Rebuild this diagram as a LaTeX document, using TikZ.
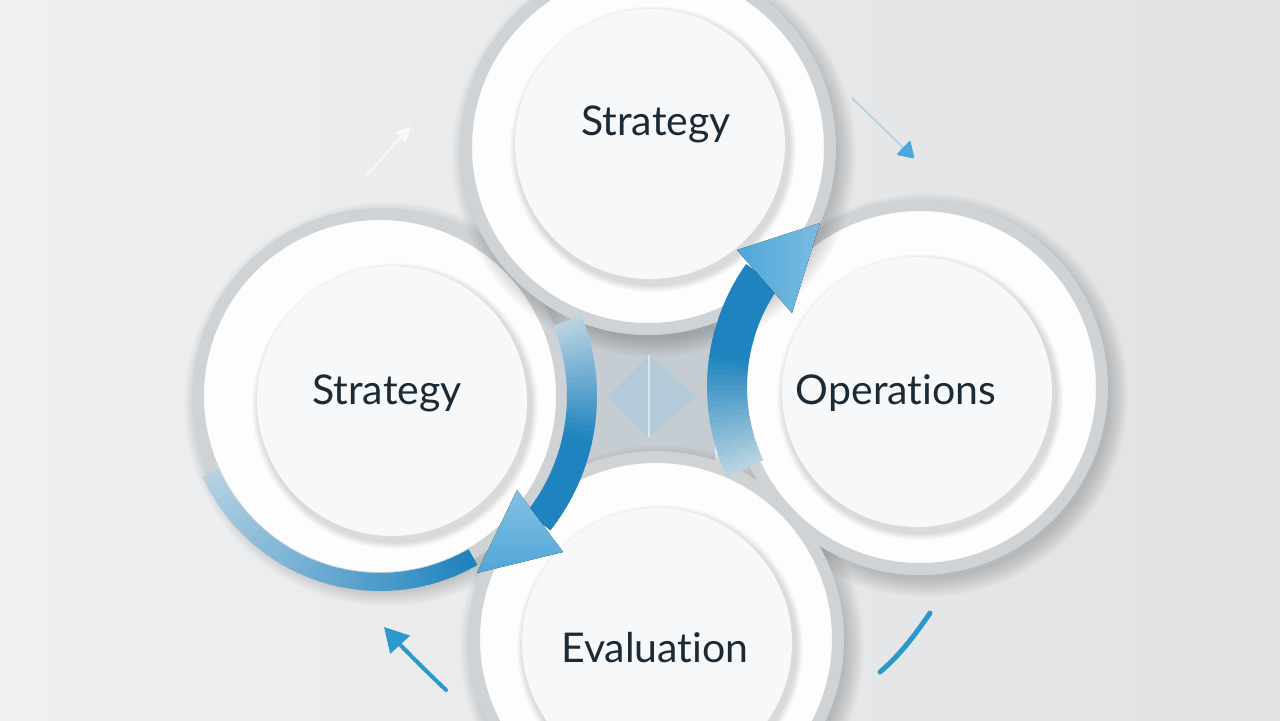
\documentclass[tikz,border=0pt]{standalone}
\usepackage{fontspec}
\setmainfont{Lato}[Ligatures={NoCommon}]
\usetikzlibrary{arrows.meta,positioning}

\definecolor{bgleft}{HTML}{EFF0F1}
\definecolor{bgright}{HTML}{E0E2E4}
\definecolor{rimgray}{HTML}{CFD3D6}
\definecolor{discwhite}{HTML}{FDFDFD}
\definecolor{innerwhite}{HTML}{F7F8F9}
\definecolor{textnavy}{HTML}{1C2A35}
\definecolor{bandblue}{HTML}{1E83BF}
\definecolor{tipblue}{HTML}{4FA6D8}
\definecolor{fadeblue}{HTML}{B8D3E2}
\definecolor{gapgray}{HTML}{C6CDD2}
\definecolor{diamondblue}{HTML}{A9C8DC}
\definecolor{smallblue}{HTML}{2B98CE}

\begin{document}
\begin{tikzpicture}[x=0.5pt,y=-0.5pt,
  outerdisc/.style={circle,inner sep=0pt,minimum size=182pt,fill=discwhite,draw=rimgray,line width=6pt},
  innerdisc/.style={circle,inner sep=0pt,minimum size=135pt,fill=innerwhite},
  softshade/.style={black,opacity=#1},
  steplabel/.style={text=textnavy,font=\fontsize{20.5}{24}\selectfont},
  smallarrow/.style={smallblue,line width=2pt,line cap=round}]
\useasboundingbox (0,0) rectangle (1280,720);

%Background
\fill[left color=bgleft,right color=bgright] (0,0) rectangle (1280,720);
%Gap between the discs
\fill[gapgray] (585,315) rectangle (715,478);
%Shape: Diamond
\fill[diamondblue,opacity=.6] (607,397) -- (649,355) -- (696,397) -- (649,437) -- cycle;
\draw[white,opacity=.5,line width=1pt] (649,355) -- (649,437);

%Shadows of the outer discs
\foreach \cx/\cy in {380/396,920/387,656/639} {
  \foreach \k in {0,...,9}
    \fill[softshade=.02] (\cx+6,\cy+8) circle (188+14-\k*2);
}

%Left disc
\node[outerdisc] (leftOut) at (380,396) {};
\foreach \i in {0,...,37} {
  \pgfmathtruncatemacro\p{100-\i*2.6}
  \draw[bandblue!\p!fadeblue,line width=9pt] ([shift={(60+\i*2.5:186)}]leftOut.center) arc[start angle=60+\i*2.5,end angle=63+\i*2.5,radius=186];
}
\foreach \k in {0,...,6}
  \fill[softshade=.018] ([shift={(3,5)}]392,401) circle (136+7-\k);
\node[innerdisc] (leftIn) at (392,401) {};

%Right disc
\node[outerdisc] (rightOut) at (920,387) {};
\foreach \k in {0,...,6}
  \fill[softshade=.018] ([shift={(3,5)}]917,392) circle (136+7-\k);
\node[innerdisc] (rightIn) at (917,392) {};

%Bottom disc
\node[outerdisc] (bottomOut) at (656,639) {};
\foreach \k in {0,...,6}
  \fill[softshade=.018] ([shift={(3,5)}]657,643) circle (136+7-\k);
\node[innerdisc] (bottomIn) at (657,643) {};

%Top disc
\foreach \k in {0,...,9}
  \fill[softshade=.02] (654,155) circle (188+14-\k*2);
\node[outerdisc] (topOut) at (648,147) {};
\foreach \k in {0,...,6}
  \fill[softshade=.018] ([shift={(3,5)}]650,144) circle (136+7-\k);
\node[innerdisc] (topIn) at (650,144) {};

% Text Node
\node[steplabel] (topTxt) at (656,124) {Strategy};
% Text Node
\node[steplabel] (leftTxt) at (387,393) {Strategy};
% Text Node
\node[steplabel] (rightTxt) at (896,393) {Operations};
% Text Node
\node[steplabel] (bottomTxt) at (655,648) {Evaluation};

%Big arrow, left disc
\foreach \i in {0,...,39} {
  \pgfmathtruncatemacro\p{min(100,\i*4.5)}
  \draw[bandblue!\p!fadeblue,line width=15pt] ([shift={(-22+\i*1.5:202)}]leftOut.center) arc[start angle=-22+\i*1.5,end angle=-20.2+\i*1.5,radius=202];
}
\fill[top color=tipblue!70!white,bottom color=tipblue] (517,490) -- (563,552) -- (477,573) -- cycle;

%Big arrow, right disc
\foreach \i in {0,...,39} {
  \pgfmathtruncatemacro\p{min(100,\i*4.5)}
  \draw[bandblue!\p!fadeblue,line width=20pt] ([shift={(155+\i*1.5:193)}]rightOut.center) arc[start angle=155+\i*1.5,end angle=156.8+\i*1.5,radius=193];
}
\fill[left color=tipblue,right color=tipblue!75!white] (737,250) -- (820,223) -- (792,313) -- cycle;

%Small arrows
\coordinate (tlS) at (366,176);
\coordinate (tlE) at (410,127);
\draw[white,opacity=.6,line width=1.2pt,-{Triangle[round,length=8pt,width=7pt]}] (tlS) -- (tlE);
\coordinate (trS) at (852,98);
\coordinate (trE) at (914,158);
\draw[fadeblue,line width=1pt,-{Triangle[round,length=8pt,width=10pt,color=tipblue]}] (trS) -- (trE);
\coordinate (blS) at (446,690);
\coordinate (blE) at (384,627);
\draw[smallarrow,-{Triangle[length=12pt,width=13pt]}] (blS) .. controls (425,670) and (405,650) .. (blE);
\coordinate (brS) at (930,613);
\coordinate (brE) at (880,672);
\draw[smallarrow,line width=2.5pt] (brS) .. controls (915,635) and (900,655) .. (brE);

\end{tikzpicture}
\end{document}
